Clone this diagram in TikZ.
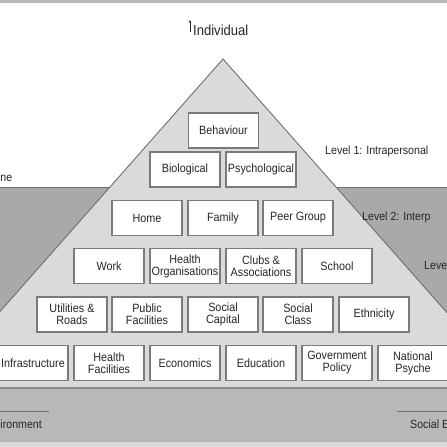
\documentclass[tikz,border=0pt]{standalone}
\usepackage{fontspec}
\setmainfont{Liberation Sans}[FakeStretch=0.9]
\usetikzlibrary{arrows.meta}

\definecolor{pyrfill}{HTML}{DADADA}
\definecolor{bandfill}{HTML}{A9A9A9}
\definecolor{envfill}{HTML}{B8B8B8}
\definecolor{edgegray}{HTML}{6E6E6E}
\definecolor{boxgray}{HTML}{7A7A7A}
\definecolor{txtgray}{HTML}{262626}

\begin{document}
\begin{tikzpicture}[x=1pt, y=1pt,
    factor/.style={draw=boxgray, line width=1.1pt, fill=white, text=txtgray,
        minimum width=70pt, minimum height=35pt, inner sep=1pt, align=center,
        font=\fontsize{12}{12}\selectfont},
    levellabel/.style={inner sep=0pt, text=txtgray, font=\fontsize{11.8}{12}\selectfont}]

% Parameters (y counted up from the bottom edge)
\def\apexx{223}       % apex of the pyramid
\def\apexy{388}
\def\basey{59}        % top of the environment band
\def\spread{0.883}    % horizontal run of the sides per unit of height

\useasboundingbox (0,0) rectangle (447,447);
\clip (0,0) rectangle (447,447);

% Frame strips at top and bottom
\fill[envfill] (0,444) rectangle (447,447);
\fill[pyrfill] (0,0) rectangle (447,5);

% Dark band behind the lower levels
\fill[bandfill] (0,260) rectangle (447,\basey);
\draw[edgegray, line width=0.9pt] (0,260) -- (447,260);

% Pyramid
\fill[pyrfill, draw=edgegray, line width=0.9pt]
    (\apexx,\apexy) -- (\apexx-\spread*\apexy+\spread*\basey,\basey)
    -- (\apexx+\spread*\apexy-\spread*\basey,\basey) -- cycle;

% Environment band at the bottom
\fill[envfill] (0,5) rectangle (447,\basey);
\draw[edgegray!80, line width=1.2pt] (0,\basey) -- (447,\basey);

% Individual at the apex
\coordinate (indbot) at (190,415);
\coordinate (indtop) at (190,427);
\draw[-{Stealth[length=3pt,width=2.5pt]}, txtgray, line width=0.7pt] (indbot) -- (indtop);
\node[levellabel, anchor=west, font=\fontsize{14.5}{15}\selectfont] (ind) at (193,417) {Individual};

% Level 1
\node[factor] (beh) at (223.5,316.5) {Behaviour};
\foreach \name/\xpos/\txt in {bio/185/Biological, psy/261/Psychological} {
    \node[factor] (\name) at (\xpos,277.5) {\txt};
}

% Level 2
\foreach \name/\xpos/\txt in {home/147/Home, fam/223/Family, peer/298/Peer Group} {
    \node[factor] (\name) at (\xpos,229) {\txt};
}

% Level 3
\foreach \name/\xpos/\txt in {work/109/Work, horg/185/{Health\\Organisations},
        club/261/{Clubs \&\\Associations}, school/337/School} {
    \node[factor] (\name) at (\xpos,181) {\txt};
}

% Level 4
\foreach \name/\xpos/\txt in {util/72/{Utilities \&\\Roads}, pub/147/{Public\\Facilities},
        scap/223/{Social\\Capital}, sclass/298/{Social\\Class}, eth/374/Ethnicity} {
    \node[factor] (\name) at (\xpos,132.5) {\txt};
}

% Level 5
\foreach \name/\xpos/\txt in {infra/33/Infrastructure, hfac/109/{Health\\Facilities},
        econ/185/Economics, edu/261/Education, gov/337/{Government\\Policy},
        nat/413/{National\\Psyche}} {
    \node[factor] (\name) at (\xpos,84) {\txt};
}

% Level labels
\node[levellabel, anchor=west] (lvlone) at (325,296) {Level 1: Intrapersonal};
\node[levellabel, anchor=west] (lvltwo) at (362,230) {Level 2: Interp};
\node[levellabel, anchor=west] (lvlthree) at (424,181) {Leve};
\node[levellabel, anchor=east] (line) at (12.5,269) {ne};

% Environment labels
\draw[edgegray, line width=0.9pt] (0,35.5) -- (49,35.5);
\draw[edgegray, line width=0.9pt] (397,35.5) -- (447,35.5);
\node[levellabel, anchor=east] (envl) at (42,23) {ironment};
\node[levellabel, anchor=west] (envr) at (410,23) {Social E};

\end{tikzpicture}
\end{document}
